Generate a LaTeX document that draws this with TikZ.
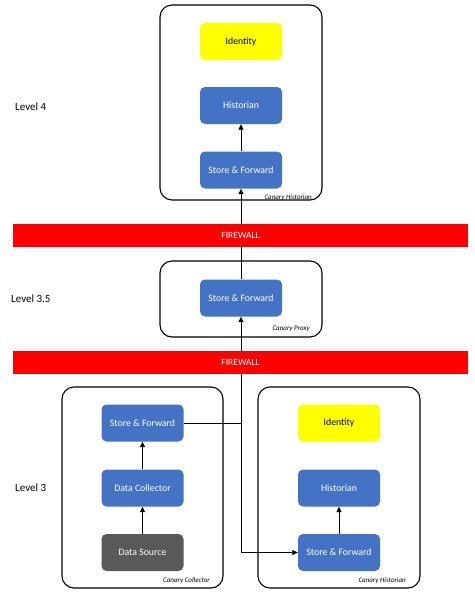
\documentclass[tikz,border=0pt]{standalone}
\usepackage{fontspec}
\setmainfont{Carlito}
\usepackage{tikz}
\usetikzlibrary{arrows.meta,positioning,calc}
\definecolor{nodeblue}{HTML}{4472C4}
\definecolor{darkbox}{HTML}{595959}
\definecolor{fwred}{HTML}{FF0000}
\definecolor{idyellow}{HTML}{FFFF00}

\begin{document}
\begin{tikzpicture}[x=1pt, y=-1pt,
    panel/.style={draw=black, rounded corners=12pt, line width=1.1pt, fill=white},
    comp/.style={rounded corners=5pt, minimum width=82pt, minimum height=37pt, font=\fontsize{9.8}{11}\selectfont, inner sep=0pt},
    blue/.style={comp, fill=nodeblue, text=white},
    ident/.style={comp, fill=idyellow, text=black},
    source/.style={comp, fill=darkbox, text=white},
    firewall/.style={fill=fwred, text=white, minimum width=455pt, minimum height=23pt, inner sep=0pt, font=\fontsize{9.5}{11}\selectfont},
    tag/.style={font=\fontsize{7}{8}\selectfont\itshape, anchor=south east, inner sep=0pt},
    level/.style={font=\fontsize{11}{13}\selectfont, anchor=west, inner sep=0pt},
    flow/.style={-{Triangle[width=5pt,length=5.5pt]}, line width=0.7pt}
]
    \useasboundingbox (0,0) rectangle (474,594);

    % Level 4 - Canary Historian (top)
    \node[panel, minimum width=162pt, minimum height=195pt] (tophist) at (241,102.5) {};
    \node[ident] (topid) at (241,41.5) {Identity};
    \node[blue] (tophis) at (241,105.5) {Historian};
    \node[blue] (topsf) at (241,170) {Store \& Forward};
    \node[tag] at (312,200.5) {Canary Historian};
    \node[level] (lvl4) at (15,107) {Level 4};

    % Level 3.5 - Canary Proxy
    \node[panel, minimum width=162pt, minimum height=76pt] (proxy) at (241,299) {};
    \node[blue] (proxysf) at (241,298) {Store \& Forward};
    \node[tag] at (310,332) {Canary Proxy};
    \node[level] (lvl35) at (11,299) {Level 3.5};

    % Level 3 - Canary Collector (left)
    \node[panel, minimum width=161pt, minimum height=201pt] (collector) at (142.5,487.5) {};
    \node[blue] (colsf) at (142.5,423) {Store \& Forward};
    \node[blue] (coldc) at (142.5,488) {Data Collector};
    \node[source] (colds) at (142.5,552.5) {Data Source};
    \node[tag] at (210,583.5) {Canary Collector};
    \node[level] (lvl3) at (15,488) {Level 3};

    % Level 3 - Canary Historian (right)
    \node[panel, minimum width=162pt, minimum height=201pt] (righthist) at (339,487.5) {};
    \node[ident] (rightid) at (339,423) {Identity};
    \node[blue] (righthis) at (339,488) {Historian};
    \node[blue] (rightsf) at (339,552.5) {Store \& Forward};
    \node[tag] at (406,583.5) {Canary Historian};

    % Data flow
    \draw[flow] (colds) -- (coldc);
    \draw[flow] (coldc) -- (colsf);
    \coordinate (split) at (colsf.east -| proxysf.south);
    \draw[line width=0.7pt] (colsf.east) -- (split);
    \draw[flow] (split) -- (proxysf.south);
    \draw[flow] (split) |- (rightsf.west);
    \draw[flow] (rightsf) -- (righthis);
    \draw[flow] (proxysf.north) -- (topsf.south);
    \draw[flow] (topsf) -- (tophis);

    % Firewalls on top of the lines
    \node[firewall] (fw1) at (240.5,235.5) {FIREWALL};
    \node[firewall] (fw2) at (240.5,362) {FIREWALL};

\end{tikzpicture}
\end{document}
